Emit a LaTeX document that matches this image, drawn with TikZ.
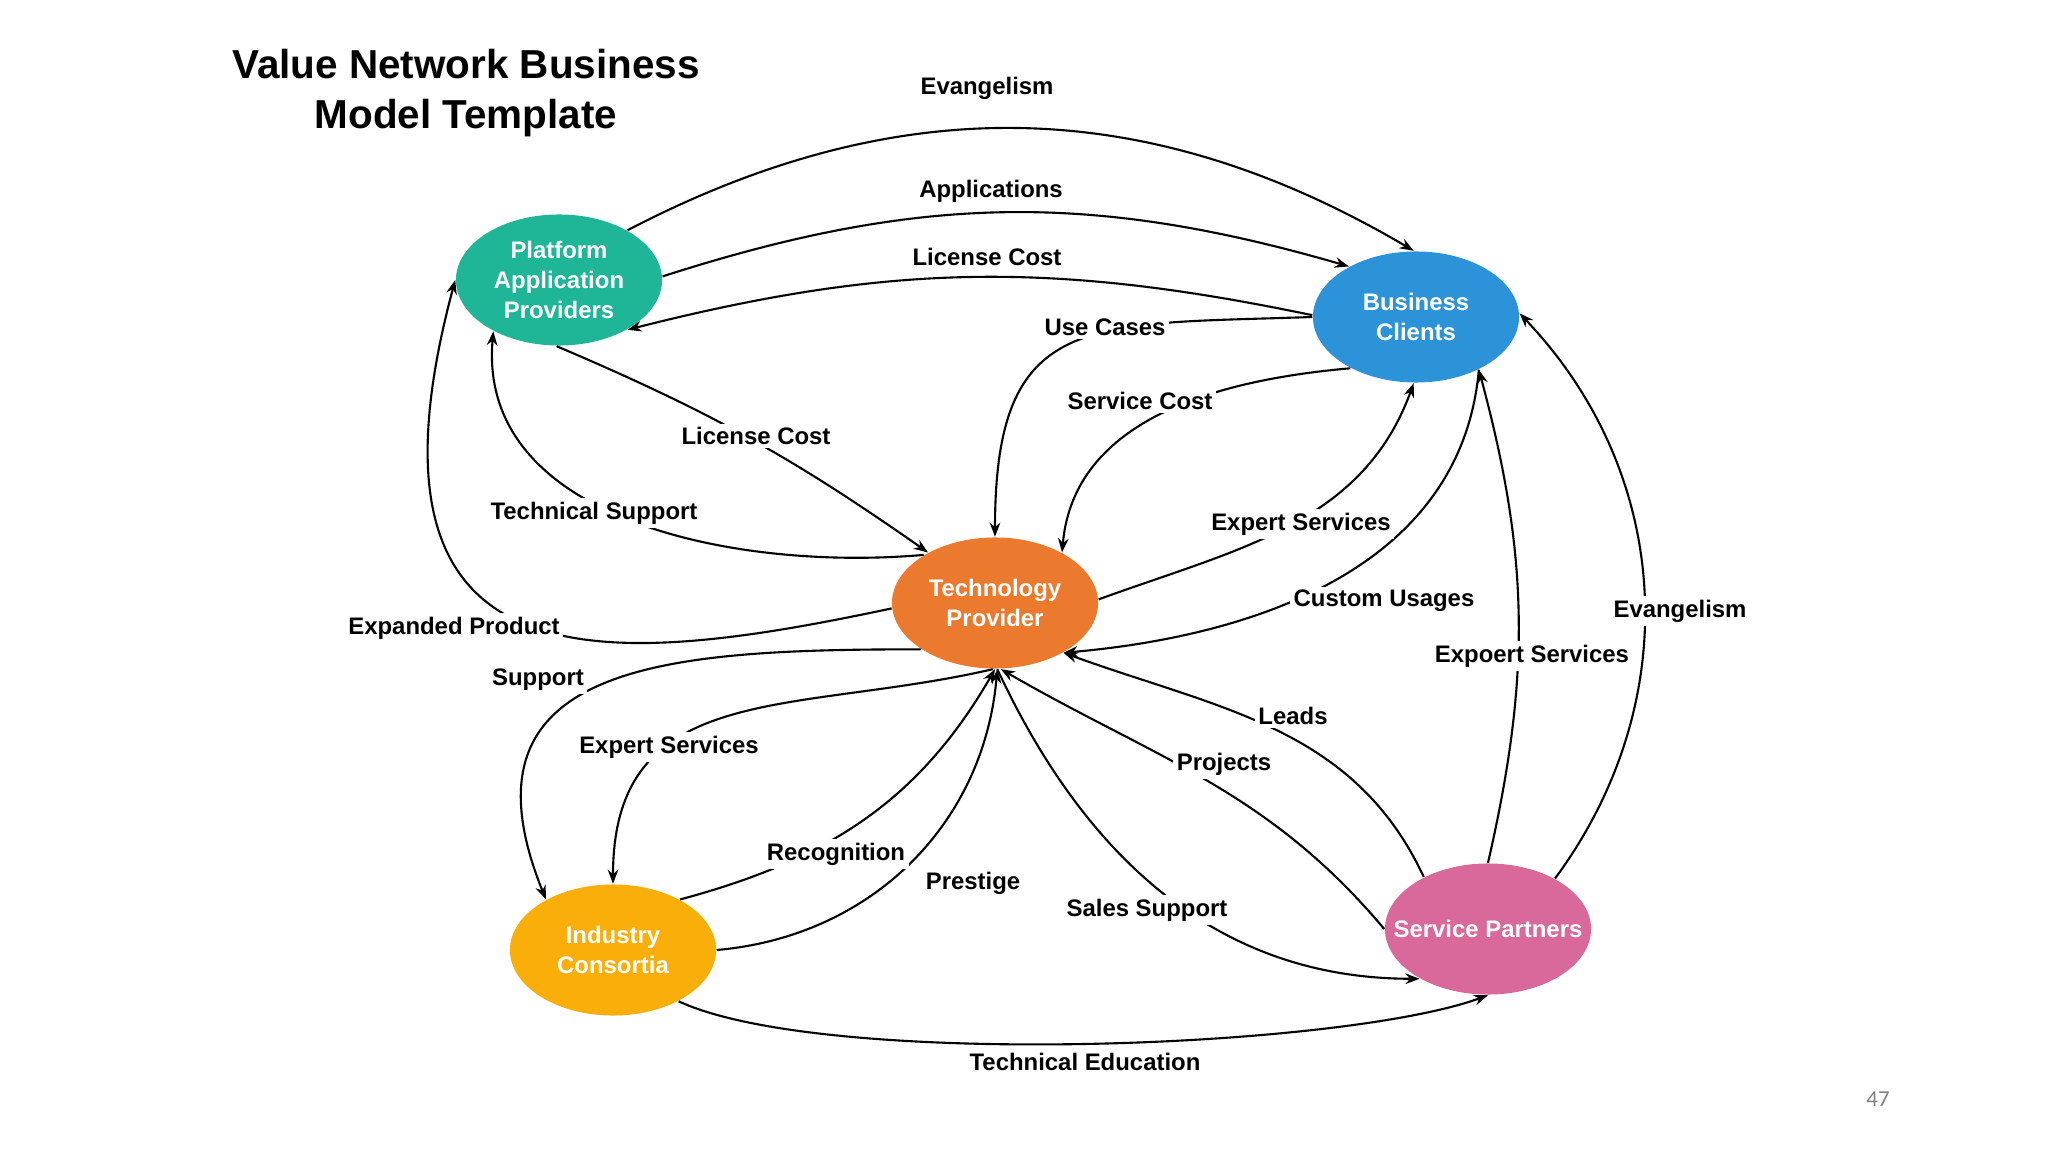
\documentclass[tikz,border=0pt]{standalone}
\usepackage{fontspec}
\setmainfont{Liberation Sans}
\newfontfamily\pagefont{Carlito}
\usetikzlibrary{arrows.meta,shapes.geometric}

\definecolor{papgreen}{RGB}{31,181,151}
\definecolor{bcblue}{RGB}{45,147,216}
\definecolor{tporange}{RGB}{235,122,46}
\definecolor{icyellow}{RGB}{250,174,10}
\definecolor{sppink}{RGB}{217,105,154}

\tikzset{
  actor/.style={ellipse, minimum width=2.06cm, minimum height=1.31cm, inner sep=0pt,
    text=white, align=center, font=\bfseries\fontsize{6.8}{8.5}\selectfont},
  flow/.style={-{Stealth[length=4pt,width=3pt]}, line width=0.6pt},
  lbl/.style={fill=white, inner sep=1pt, font=\bfseries\fontsize{6.8}{8}\selectfont},
}

\begin{document}
\begin{tikzpicture}[x=0.01cm, y=0.01cm]
\useasboundingbox (0,0) rectangle (2048,-1152);

% title and page number
\node[align=center, font=\bfseries\fontsize{11.5}{14.2}\selectfont] (title) at (466,-93) {Value Network Business\\Model Template};
\node[font=\pagefont\fontsize{6.5}{7}\selectfont, text=gray] (pagenum) at (1878,-1099) {47};

% actors
\node[actor, fill=papgreen] (pap) at (559,-280) {Platform\\Application\\Providers};
\node[actor, fill=bcblue] (bc) at (1416,-317) {Business\\Clients};
\node[actor, fill=tporange] (tp) at (995,-603) {Technology\\Provider};
\node[actor, fill=icyellow] (ic) at (613,-950) {Industry\\Consortia};
\node[actor, fill=sppink, inner xsep=-7pt] (sp) at (1488,-929) {Service Partners};

% flows
\draw[flow] (pap.36) to[bend left=29] (bc.92);
\draw[flow] (pap.2) to[bend left=17] (bc.143);
\draw[flow] (bc.179) to[bend right=13] (pap.324);
\draw[flow] (bc.180) to[out=182, in=90, looseness=1.5] (tp.90);
\draw[flow] (bc.218) to[out=185, in=85] (tp.37);
\draw[flow] (tp.2) to[out=20, in=250] (bc.268);
\draw[flow] (bc.320) to[out=265, in=5] (tp.324);
\draw[flow] (sp.90) to[bend right=14] (bc.320);
\draw[flow] (sp.37) to[bend right=40] (bc.2);
\draw[flow] (pap.268) to[bend left=6] (tp.143);
\draw[flow] (tp.146) to[out=185, in=265] (pap.218);
\draw[flow] (tp.183) to[out=192, in=255, out looseness=1.4, in looseness=2] (pap.180);
\draw[flow] (tp.212) to[out=180, in=112, looseness=1.45] (ic.143);
\draw[flow] (tp.268) to[out=193, in=90, looseness=1.2] (ic.90);
\draw[flow] (ic.37) to[out=15, in=240] (tp.270);
\draw[flow] (ic.0) to[out=5, in=265] (tp.272);
\draw[flow] (tp.272) to[out=295, in=180] (sp.216);
\draw[flow] (sp.180) to[out=130, in=330] (tp.275);
\draw[flow] (sp.141) to[out=115, in=340] (tp.324);
\draw[flow] (ic.322) to[out=-25, in=200, looseness=0.5] (sp.270);

% labels
\node[lbl] (lEvangTop) at (987,-88) {Evangelism};
\node[lbl] (lApps) at (991,-191) {Applications};
\node[lbl] (lLicTop) at (987,-257) {License Cost};
\node[lbl] (lUse) at (1105,-327) {Use Cases};
\node[lbl] (lSvcCost) at (1140,-401) {Service Cost};
\node[lbl] (lLicMid) at (756,-436) {License Cost};
\node[lbl] (lTechSup) at (594,-513) {Technical Support};
\node[lbl] (lExpRight) at (1301,-524) {Expert Services};
\node[lbl] (lCustom) at (1384,-601) {Custom Usages};
\node[lbl] (lEvangRight) at (1680,-611) {Evangelism};
\node[lbl] (lExpanded) at (454,-628) {Expanded Product};
\node[lbl] (lExpoert) at (1532,-656) {Expoert Services};
\node[lbl] (lSupport) at (538,-680) {Support};
\node[lbl] (lLeads) at (1293,-716) {Leads};
\node[lbl] (lExpLeft) at (669,-747) {Expert Services};
\node[lbl] (lProjects) at (1224,-764) {Projects};
\node[lbl] (lRecog) at (836,-854) {Recognition};
\node[lbl] (lPrestige) at (973,-883) {Prestige};
\node[lbl] (lSales) at (1147,-910) {Sales Support};
\node[lbl] (lTechEdu) at (1085,-1062) {Technical Education};
\end{tikzpicture}
\end{document}
